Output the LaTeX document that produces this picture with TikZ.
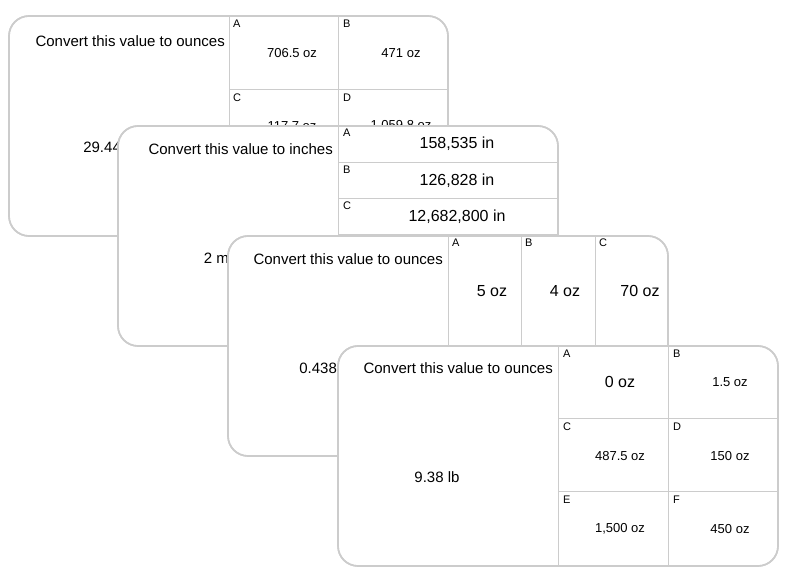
\documentclass[tikz,border=0pt]{standalone}
\usepackage{fontspec}
\setmainfont{Liberation Sans}
\tikzset{
 cardbox/.style={draw=black!20,line width=1.6pt,fill=white,rounded corners=20pt},
 cell/.style={draw=black!20,line width=0.9pt},
 qtext/.style={anchor=east,font=\fontsize{15}{17}\selectfont,inner sep=0pt},
 vtext/.style={font=\fontsize{15}{17}\selectfont,inner sep=0pt},
 lbl/.style={anchor=north west,font=\fontsize{11}{13}\selectfont,inner sep=0pt},
 sval/.style={font=\fontsize{13}{15}\selectfont,inner sep=0pt},
 bval/.style={font=\fontsize{16}{18}\selectfont,inner sep=0pt},
}
\begin{document}
\begin{tikzpicture}[x=1pt,y=-1pt]
\useasboundingbox (0,0) rectangle (800,585);
% card 1
\path[cardbox] (9,16) rectangle (448,236);
\begin{scope}
\clip[rounded corners=20pt] (9,16) rectangle (448,236);
\draw[cell] (229,16) -- (229,236) (338,16) -- (338,236) (229,89) -- (448,89) (229,162) -- (448,162);
\end{scope}
\node[qtext] (q1) at (225,41) {Convert this value to ounces};
\node[vtext] (v1) at (110,147) {29.44 lb};
\node[lbl] (a1) at (233,20) {A}; \node[sval] (a1v) at (292,53) {706.5 oz};
\node[lbl] (b1) at (343,20) {B}; \node[sval] (b1v) at (401,53) {471 oz};
\node[lbl] (c1) at (233,94) {C}; \node[sval] (c1v) at (292,126) {117.7 oz};
\node[lbl] (d1) at (343,94) {D}; \node[sval] (d1v) at (401,126) {1,059.8 oz};
\path[cardbox,fill=none] (9,16) rectangle (448,236);
% card 2
\path[cardbox] (118,126) rectangle (558,346);
\begin{scope}
\clip[rounded corners=20pt] (118,126) rectangle (558,346);
\draw[cell] (338,126) -- (338,346) (338,162) -- (558,162) (338,198) -- (558,198) (338,234) -- (558,234) (338,270) -- (558,270) (338,306) -- (558,306);
\end{scope}
\node[qtext] (q2) at (333,149) {Convert this value to inches};
\node[vtext] (v2) at (218,258) {2 mi};
\node[lbl] (a2) at (343,129) {A}; \node[bval] (a2v) at (457,144) {158,535 in};
\node[lbl] (b2) at (343,166) {B}; \node[bval] (b2v) at (457,181) {126,828 in};
\node[lbl] (c2) at (343,202) {C}; \node[bval] (c2v) at (457,217) {12,682,800 in};
\path[cardbox,fill=none] (118,126) rectangle (558,346);
% card 3
\path[cardbox] (228,236) rectangle (668,456);
\begin{scope}
\clip[rounded corners=20pt] (228,236) rectangle (668,456);
\draw[cell] (448,236) -- (448,456) (521,236) -- (521,346) (595,236) -- (595,346) (448,346) -- (668,346);
\end{scope}
\node[qtext] (q3) at (443,259) {Convert this value to ounces};
\node[vtext] (v3) at (326,368) {0.438 lb};
\node[lbl] (a3) at (452,239) {A}; \node[bval] (a3v) at (492,291) {5 oz};
\node[lbl] (b3) at (525,239) {B}; \node[bval] (b3v) at (565,291) {4 oz};
\node[lbl] (c3) at (599,239) {C}; \node[bval] (c3v) at (640,291) {70 oz};
\path[cardbox,fill=none] (228,236) rectangle (668,456);
% card 4
\path[cardbox] (338,346) rectangle (778,566);
\begin{scope}
\clip[rounded corners=20pt] (338,346) rectangle (778,566);
\draw[cell] (558,346) -- (558,566) (668,346) -- (668,566) (558,418) -- (778,418) (558,491) -- (778,491);
\end{scope}
\node[qtext] (q4) at (553,368) {Convert this value to ounces};
\node[vtext] (v4) at (437,477) {9.38 lb};
\node[lbl] (a4) at (563,350) {A}; \node[bval] (a4v) at (620,382) {0 oz};
\node[lbl] (b4) at (673,350) {B}; \node[sval] (b4v) at (730,382) {1.5 oz};
\node[lbl] (c4) at (563,423) {C}; \node[sval] (c4v) at (620,456) {487.5 oz};
\node[lbl] (d4) at (673,423) {D}; \node[sval] (d4v) at (730,456) {150 oz};
\node[lbl] (e4) at (563,496) {E}; \node[sval] (e4v) at (620,529) {1,500 oz};
\node[lbl] (f4) at (673,496) {F}; \node[sval] (f4v) at (730,529) {450 oz};
\path[cardbox,fill=none] (338,346) rectangle (778,566);
\end{tikzpicture}
\end{document}
